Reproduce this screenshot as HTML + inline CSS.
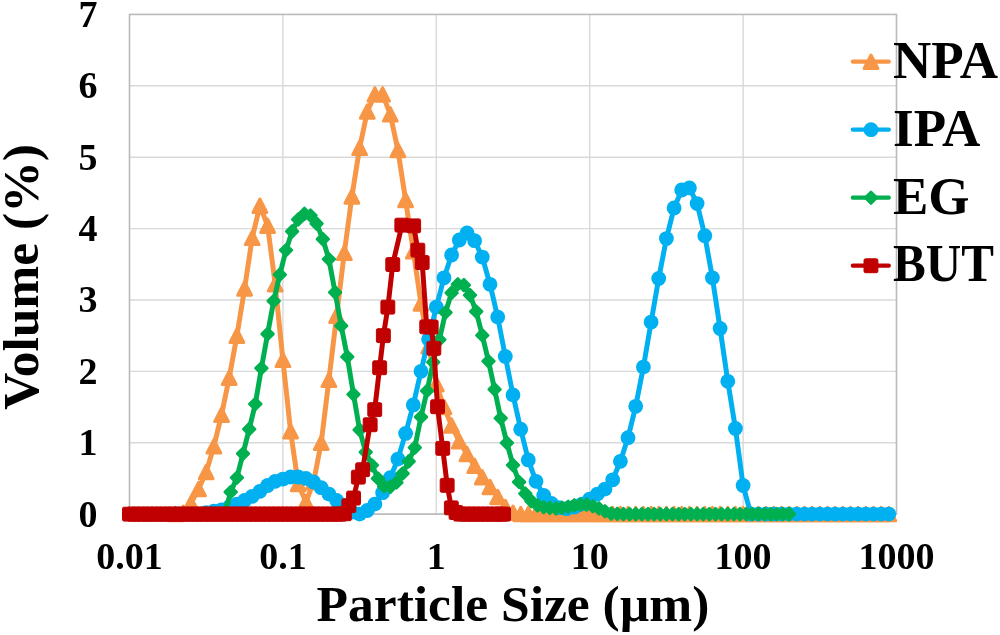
<!DOCTYPE html>
<html><head><meta charset="utf-8"><style>
html,body{margin:0;padding:0;background:#fff;}
svg{display:block;}
text{font-family:"Liberation Serif",serif;font-weight:bold;fill:#000;}
.tk{font-size:38px;}
.lg{font-size:53px;}
.lgb{font-size:52.5px;}
.tt{font-size:51.5px;}
</style></head><body>
<svg width="1000" height="635" viewBox="0 0 1000 635">
<line x1="129.5" y1="514.10" x2="896.5" y2="514.10" stroke="#d9d9d9" stroke-width="1.4"/>
<line x1="129.5" y1="442.72" x2="896.5" y2="442.72" stroke="#d9d9d9" stroke-width="1.4"/>
<line x1="129.5" y1="371.34" x2="896.5" y2="371.34" stroke="#d9d9d9" stroke-width="1.4"/>
<line x1="129.5" y1="299.96" x2="896.5" y2="299.96" stroke="#d9d9d9" stroke-width="1.4"/>
<line x1="129.5" y1="228.58" x2="896.5" y2="228.58" stroke="#d9d9d9" stroke-width="1.4"/>
<line x1="129.5" y1="157.20" x2="896.5" y2="157.20" stroke="#d9d9d9" stroke-width="1.4"/>
<line x1="129.5" y1="85.82" x2="896.5" y2="85.82" stroke="#d9d9d9" stroke-width="1.4"/>
<line x1="282.90" y1="14.44" x2="282.90" y2="514.10" stroke="#d9d9d9" stroke-width="1.4"/>
<line x1="436.30" y1="14.44" x2="436.30" y2="514.10" stroke="#d9d9d9" stroke-width="1.4"/>
<line x1="589.70" y1="14.44" x2="589.70" y2="514.10" stroke="#d9d9d9" stroke-width="1.4"/>
<line x1="743.10" y1="14.44" x2="743.10" y2="514.10" stroke="#d9d9d9" stroke-width="1.4"/>
<rect x="129.5" y="14.44" width="767.0" height="499.66" fill="none" stroke="#bababa" stroke-width="1.6"/>
<polyline points="175.5,514.1 183.2,512.7 190.9,503.4 198.5,489.1 206.2,472.0 213.9,446.3 221.5,414.9 229.2,377.8 236.9,335.7 244.6,288.5 252.2,237.9 259.9,205.7 267.6,225.7 275.2,284.3 282.9,359.9 290.6,431.3 298.2,484.1 305.9,502.0 313.6,482.0 321.2,442.7 328.9,379.9 336.6,315.7 344.3,252.8 351.9,196.5 359.6,147.9 367.3,111.5 374.9,94.4 382.6,94.4 390.3,114.4 397.9,150.1 405.6,200.0 413.3,251.4 421.0,303.5 428.6,346.4 436.3,384.2 444.0,407.0 451.6,425.6 459.3,441.3 467.0,454.1 474.6,465.9 482.3,477.3 490.0,487.0 497.7,497.0 505.3,507.0 513.0,512.7 520.7,514.1 528.3,514.1 536.0,514.1 543.7,514.1 551.4,514.1 559.0,514.1 566.7,514.1 574.4,514.1 582.0,514.1 589.7,514.1 597.4,514.1 605.0,514.1 612.7,514.1 620.4,514.1 628.0,514.1 635.7,514.1 643.4,514.1 651.1,514.1 658.7,514.1 666.4,514.1 674.1,514.1 681.7,514.1 689.4,514.1 697.1,514.1 704.8,514.1 712.4,514.1 720.1,514.1 727.8,514.1 735.4,514.1 743.1,514.1 750.8,514.1 758.4,514.1 766.1,514.1 773.8,514.1 781.5,514.1 789.1,514.1 796.8,514.1 804.5,514.1 812.1,514.1 819.8,514.1 827.5,514.1 835.1,514.1 842.8,514.1 850.5,514.1 858.1,514.1 865.8,514.1 873.5,514.1 881.2,514.1 888.8,514.1" fill="none" stroke="#f79646" stroke-width="5" stroke-linejoin="round" stroke-linecap="round"/>
<path d="M175.5 507.4L182.4 520.8L168.6 520.8Z" fill="#f79646" stroke="#f79646" stroke-width="3" stroke-linejoin="round"/>
<path d="M183.2 506.0L190.1 519.4L176.3 519.4Z" fill="#f79646" stroke="#f79646" stroke-width="3" stroke-linejoin="round"/>
<path d="M190.9 496.7L197.8 510.1L184.0 510.1Z" fill="#f79646" stroke="#f79646" stroke-width="3" stroke-linejoin="round"/>
<path d="M198.5 482.4L205.4 495.8L191.6 495.8Z" fill="#f79646" stroke="#f79646" stroke-width="3" stroke-linejoin="round"/>
<path d="M206.2 465.3L213.1 478.7L199.3 478.7Z" fill="#f79646" stroke="#f79646" stroke-width="3" stroke-linejoin="round"/>
<path d="M213.9 439.6L220.8 453.0L207.0 453.0Z" fill="#f79646" stroke="#f79646" stroke-width="3" stroke-linejoin="round"/>
<path d="M221.5 408.2L228.4 421.6L214.6 421.6Z" fill="#f79646" stroke="#f79646" stroke-width="3" stroke-linejoin="round"/>
<path d="M229.2 371.1L236.1 384.5L222.3 384.5Z" fill="#f79646" stroke="#f79646" stroke-width="3" stroke-linejoin="round"/>
<path d="M236.9 329.0L243.8 342.4L230.0 342.4Z" fill="#f79646" stroke="#f79646" stroke-width="3" stroke-linejoin="round"/>
<path d="M244.6 281.8L251.5 295.2L237.7 295.2Z" fill="#f79646" stroke="#f79646" stroke-width="3" stroke-linejoin="round"/>
<path d="M252.2 231.2L259.1 244.6L245.3 244.6Z" fill="#f79646" stroke="#f79646" stroke-width="3" stroke-linejoin="round"/>
<path d="M259.9 199.0L266.8 212.4L253.0 212.4Z" fill="#f79646" stroke="#f79646" stroke-width="3" stroke-linejoin="round"/>
<path d="M267.6 219.0L274.5 232.4L260.7 232.4Z" fill="#f79646" stroke="#f79646" stroke-width="3" stroke-linejoin="round"/>
<path d="M275.2 277.6L282.1 291.0L268.3 291.0Z" fill="#f79646" stroke="#f79646" stroke-width="3" stroke-linejoin="round"/>
<path d="M282.9 353.2L289.8 366.6L276.0 366.6Z" fill="#f79646" stroke="#f79646" stroke-width="3" stroke-linejoin="round"/>
<path d="M290.6 424.6L297.5 438.0L283.7 438.0Z" fill="#f79646" stroke="#f79646" stroke-width="3" stroke-linejoin="round"/>
<path d="M298.2 477.4L305.1 490.8L291.3 490.8Z" fill="#f79646" stroke="#f79646" stroke-width="3" stroke-linejoin="round"/>
<path d="M305.9 495.3L312.8 508.7L299.0 508.7Z" fill="#f79646" stroke="#f79646" stroke-width="3" stroke-linejoin="round"/>
<path d="M313.6 475.3L320.5 488.7L306.7 488.7Z" fill="#f79646" stroke="#f79646" stroke-width="3" stroke-linejoin="round"/>
<path d="M321.2 436.0L328.1 449.4L314.4 449.4Z" fill="#f79646" stroke="#f79646" stroke-width="3" stroke-linejoin="round"/>
<path d="M328.9 373.2L335.8 386.6L322.0 386.6Z" fill="#f79646" stroke="#f79646" stroke-width="3" stroke-linejoin="round"/>
<path d="M336.6 309.0L343.5 322.4L329.7 322.4Z" fill="#f79646" stroke="#f79646" stroke-width="3" stroke-linejoin="round"/>
<path d="M344.3 246.1L351.2 259.5L337.4 259.5Z" fill="#f79646" stroke="#f79646" stroke-width="3" stroke-linejoin="round"/>
<path d="M351.9 189.8L358.8 203.2L345.0 203.2Z" fill="#f79646" stroke="#f79646" stroke-width="3" stroke-linejoin="round"/>
<path d="M359.6 141.2L366.5 154.6L352.7 154.6Z" fill="#f79646" stroke="#f79646" stroke-width="3" stroke-linejoin="round"/>
<path d="M367.3 104.8L374.2 118.2L360.4 118.2Z" fill="#f79646" stroke="#f79646" stroke-width="3" stroke-linejoin="round"/>
<path d="M374.9 87.7L381.8 101.1L368.0 101.1Z" fill="#f79646" stroke="#f79646" stroke-width="3" stroke-linejoin="round"/>
<path d="M382.6 87.7L389.5 101.1L375.7 101.1Z" fill="#f79646" stroke="#f79646" stroke-width="3" stroke-linejoin="round"/>
<path d="M390.3 107.7L397.2 121.1L383.4 121.1Z" fill="#f79646" stroke="#f79646" stroke-width="3" stroke-linejoin="round"/>
<path d="M397.9 143.4L404.8 156.8L391.1 156.8Z" fill="#f79646" stroke="#f79646" stroke-width="3" stroke-linejoin="round"/>
<path d="M405.6 193.3L412.5 206.7L398.7 206.7Z" fill="#f79646" stroke="#f79646" stroke-width="3" stroke-linejoin="round"/>
<path d="M413.3 244.7L420.2 258.1L406.4 258.1Z" fill="#f79646" stroke="#f79646" stroke-width="3" stroke-linejoin="round"/>
<path d="M421.0 296.8L427.9 310.2L414.1 310.2Z" fill="#f79646" stroke="#f79646" stroke-width="3" stroke-linejoin="round"/>
<path d="M428.6 339.7L435.5 353.1L421.7 353.1Z" fill="#f79646" stroke="#f79646" stroke-width="3" stroke-linejoin="round"/>
<path d="M436.3 377.5L443.2 390.9L429.4 390.9Z" fill="#f79646" stroke="#f79646" stroke-width="3" stroke-linejoin="round"/>
<path d="M444.0 400.3L450.9 413.7L437.1 413.7Z" fill="#f79646" stroke="#f79646" stroke-width="3" stroke-linejoin="round"/>
<path d="M451.6 418.9L458.5 432.3L444.7 432.3Z" fill="#f79646" stroke="#f79646" stroke-width="3" stroke-linejoin="round"/>
<path d="M459.3 434.6L466.2 448.0L452.4 448.0Z" fill="#f79646" stroke="#f79646" stroke-width="3" stroke-linejoin="round"/>
<path d="M467.0 447.4L473.9 460.8L460.1 460.8Z" fill="#f79646" stroke="#f79646" stroke-width="3" stroke-linejoin="round"/>
<path d="M474.6 459.2L481.5 472.6L467.8 472.6Z" fill="#f79646" stroke="#f79646" stroke-width="3" stroke-linejoin="round"/>
<path d="M482.3 470.6L489.2 484.0L475.4 484.0Z" fill="#f79646" stroke="#f79646" stroke-width="3" stroke-linejoin="round"/>
<path d="M490.0 480.3L496.9 493.7L483.1 493.7Z" fill="#f79646" stroke="#f79646" stroke-width="3" stroke-linejoin="round"/>
<path d="M497.7 490.3L504.6 503.7L490.8 503.7Z" fill="#f79646" stroke="#f79646" stroke-width="3" stroke-linejoin="round"/>
<path d="M505.3 500.3L512.2 513.7L498.4 513.7Z" fill="#f79646" stroke="#f79646" stroke-width="3" stroke-linejoin="round"/>
<path d="M513.0 506.0L519.9 519.4L506.1 519.4Z" fill="#f79646" stroke="#f79646" stroke-width="3" stroke-linejoin="round"/>
<path d="M520.7 507.4L527.6 520.8L513.8 520.8Z" fill="#f79646" stroke="#f79646" stroke-width="3" stroke-linejoin="round"/>
<path d="M528.3 507.4L535.2 520.8L521.4 520.8Z" fill="#f79646" stroke="#f79646" stroke-width="3" stroke-linejoin="round"/>
<path d="M536.0 507.4L542.9 520.8L529.1 520.8Z" fill="#f79646" stroke="#f79646" stroke-width="3" stroke-linejoin="round"/>
<path d="M543.7 507.4L550.6 520.8L536.8 520.8Z" fill="#f79646" stroke="#f79646" stroke-width="3" stroke-linejoin="round"/>
<path d="M551.4 507.4L558.2 520.8L544.5 520.8Z" fill="#f79646" stroke="#f79646" stroke-width="3" stroke-linejoin="round"/>
<path d="M559.0 507.4L565.9 520.8L552.1 520.8Z" fill="#f79646" stroke="#f79646" stroke-width="3" stroke-linejoin="round"/>
<path d="M566.7 507.4L573.6 520.8L559.8 520.8Z" fill="#f79646" stroke="#f79646" stroke-width="3" stroke-linejoin="round"/>
<path d="M574.4 507.4L581.3 520.8L567.5 520.8Z" fill="#f79646" stroke="#f79646" stroke-width="3" stroke-linejoin="round"/>
<path d="M582.0 507.4L588.9 520.8L575.1 520.8Z" fill="#f79646" stroke="#f79646" stroke-width="3" stroke-linejoin="round"/>
<path d="M589.7 507.4L596.6 520.8L582.8 520.8Z" fill="#f79646" stroke="#f79646" stroke-width="3" stroke-linejoin="round"/>
<path d="M597.4 507.4L604.3 520.8L590.5 520.8Z" fill="#f79646" stroke="#f79646" stroke-width="3" stroke-linejoin="round"/>
<path d="M605.0 507.4L611.9 520.8L598.1 520.8Z" fill="#f79646" stroke="#f79646" stroke-width="3" stroke-linejoin="round"/>
<path d="M612.7 507.4L619.6 520.8L605.8 520.8Z" fill="#f79646" stroke="#f79646" stroke-width="3" stroke-linejoin="round"/>
<path d="M620.4 507.4L627.3 520.8L613.5 520.8Z" fill="#f79646" stroke="#f79646" stroke-width="3" stroke-linejoin="round"/>
<path d="M628.0 507.4L634.9 520.8L621.1 520.8Z" fill="#f79646" stroke="#f79646" stroke-width="3" stroke-linejoin="round"/>
<path d="M635.7 507.4L642.6 520.8L628.8 520.8Z" fill="#f79646" stroke="#f79646" stroke-width="3" stroke-linejoin="round"/>
<path d="M643.4 507.4L650.3 520.8L636.5 520.8Z" fill="#f79646" stroke="#f79646" stroke-width="3" stroke-linejoin="round"/>
<path d="M651.1 507.4L658.0 520.8L644.2 520.8Z" fill="#f79646" stroke="#f79646" stroke-width="3" stroke-linejoin="round"/>
<path d="M658.7 507.4L665.6 520.8L651.8 520.8Z" fill="#f79646" stroke="#f79646" stroke-width="3" stroke-linejoin="round"/>
<path d="M666.4 507.4L673.3 520.8L659.5 520.8Z" fill="#f79646" stroke="#f79646" stroke-width="3" stroke-linejoin="round"/>
<path d="M674.1 507.4L681.0 520.8L667.2 520.8Z" fill="#f79646" stroke="#f79646" stroke-width="3" stroke-linejoin="round"/>
<path d="M681.7 507.4L688.6 520.8L674.8 520.8Z" fill="#f79646" stroke="#f79646" stroke-width="3" stroke-linejoin="round"/>
<path d="M689.4 507.4L696.3 520.8L682.5 520.8Z" fill="#f79646" stroke="#f79646" stroke-width="3" stroke-linejoin="round"/>
<path d="M697.1 507.4L704.0 520.8L690.2 520.8Z" fill="#f79646" stroke="#f79646" stroke-width="3" stroke-linejoin="round"/>
<path d="M704.8 507.4L711.6 520.8L697.9 520.8Z" fill="#f79646" stroke="#f79646" stroke-width="3" stroke-linejoin="round"/>
<path d="M712.4 507.4L719.3 520.8L705.5 520.8Z" fill="#f79646" stroke="#f79646" stroke-width="3" stroke-linejoin="round"/>
<path d="M720.1 507.4L727.0 520.8L713.2 520.8Z" fill="#f79646" stroke="#f79646" stroke-width="3" stroke-linejoin="round"/>
<path d="M727.8 507.4L734.7 520.8L720.9 520.8Z" fill="#f79646" stroke="#f79646" stroke-width="3" stroke-linejoin="round"/>
<path d="M735.4 507.4L742.3 520.8L728.5 520.8Z" fill="#f79646" stroke="#f79646" stroke-width="3" stroke-linejoin="round"/>
<path d="M743.1 507.4L750.0 520.8L736.2 520.8Z" fill="#f79646" stroke="#f79646" stroke-width="3" stroke-linejoin="round"/>
<path d="M750.8 507.4L757.7 520.8L743.9 520.8Z" fill="#f79646" stroke="#f79646" stroke-width="3" stroke-linejoin="round"/>
<path d="M758.4 507.4L765.3 520.8L751.5 520.8Z" fill="#f79646" stroke="#f79646" stroke-width="3" stroke-linejoin="round"/>
<path d="M766.1 507.4L773.0 520.8L759.2 520.8Z" fill="#f79646" stroke="#f79646" stroke-width="3" stroke-linejoin="round"/>
<path d="M773.8 507.4L780.7 520.8L766.9 520.8Z" fill="#f79646" stroke="#f79646" stroke-width="3" stroke-linejoin="round"/>
<path d="M781.5 507.4L788.4 520.8L774.6 520.8Z" fill="#f79646" stroke="#f79646" stroke-width="3" stroke-linejoin="round"/>
<path d="M789.1 507.4L796.0 520.8L782.2 520.8Z" fill="#f79646" stroke="#f79646" stroke-width="3" stroke-linejoin="round"/>
<path d="M796.8 507.4L803.7 520.8L789.9 520.8Z" fill="#f79646" stroke="#f79646" stroke-width="3" stroke-linejoin="round"/>
<path d="M804.5 507.4L811.4 520.8L797.6 520.8Z" fill="#f79646" stroke="#f79646" stroke-width="3" stroke-linejoin="round"/>
<path d="M812.1 507.4L819.0 520.8L805.2 520.8Z" fill="#f79646" stroke="#f79646" stroke-width="3" stroke-linejoin="round"/>
<path d="M819.8 507.4L826.7 520.8L812.9 520.8Z" fill="#f79646" stroke="#f79646" stroke-width="3" stroke-linejoin="round"/>
<path d="M827.5 507.4L834.4 520.8L820.6 520.8Z" fill="#f79646" stroke="#f79646" stroke-width="3" stroke-linejoin="round"/>
<path d="M835.1 507.4L842.0 520.8L828.2 520.8Z" fill="#f79646" stroke="#f79646" stroke-width="3" stroke-linejoin="round"/>
<path d="M842.8 507.4L849.7 520.8L835.9 520.8Z" fill="#f79646" stroke="#f79646" stroke-width="3" stroke-linejoin="round"/>
<path d="M850.5 507.4L857.4 520.8L843.6 520.8Z" fill="#f79646" stroke="#f79646" stroke-width="3" stroke-linejoin="round"/>
<path d="M858.1 507.4L865.0 520.8L851.2 520.8Z" fill="#f79646" stroke="#f79646" stroke-width="3" stroke-linejoin="round"/>
<path d="M865.8 507.4L872.7 520.8L858.9 520.8Z" fill="#f79646" stroke="#f79646" stroke-width="3" stroke-linejoin="round"/>
<path d="M873.5 507.4L880.4 520.8L866.6 520.8Z" fill="#f79646" stroke="#f79646" stroke-width="3" stroke-linejoin="round"/>
<path d="M881.2 507.4L888.1 520.8L874.3 520.8Z" fill="#f79646" stroke="#f79646" stroke-width="3" stroke-linejoin="round"/>
<path d="M888.8 507.4L895.7 520.8L881.9 520.8Z" fill="#f79646" stroke="#f79646" stroke-width="3" stroke-linejoin="round"/>
<polyline points="129.5,514.1 137.2,514.1 144.8,514.1 152.5,514.1 160.2,514.1 167.8,514.1 175.5,514.1 183.2,514.1 190.9,514.1 198.5,514.1 206.2,512.7 213.9,511.2 221.5,509.8 229.2,507.0 236.9,504.1 244.6,500.5 252.2,496.3 259.9,491.3 267.6,485.5 275.2,481.3 282.9,479.1 290.6,477.0 298.2,477.0 305.9,478.4 313.6,482.0 321.2,487.7 328.9,494.1 336.6,500.5 344.3,507.7 351.9,512.0 359.6,514.1 367.3,510.5 374.9,504.1 382.6,492.7 390.3,477.7 397.9,459.1 405.6,433.4 413.3,404.9 421.0,371.3 428.6,339.2 436.3,307.1 444.0,277.8 451.6,255.0 459.3,240.0 467.0,232.9 474.6,240.7 482.3,257.1 490.0,284.3 497.7,317.1 505.3,356.4 513.0,394.9 520.7,429.2 528.3,459.9 536.0,481.3 543.7,495.5 551.4,503.4 559.0,507.7 566.7,508.7 574.4,507.0 582.0,504.1 589.7,499.1 597.4,494.1 605.0,489.1 612.7,479.8 620.4,461.3 628.0,437.7 635.7,406.3 643.4,367.1 651.1,322.1 658.7,278.5 666.4,238.6 674.1,207.9 681.7,190.0 689.4,187.9 697.1,203.6 704.8,235.7 712.4,277.8 720.1,328.5 727.8,381.3 735.4,428.4 743.1,485.5 750.8,514.1 758.4,514.1 766.1,514.1 773.8,514.1 781.5,514.1 789.1,514.1 796.8,514.1 804.5,514.1 812.1,514.1 819.8,514.1 827.5,514.1 835.1,514.1 842.8,514.1 850.5,514.1 858.1,514.1 865.8,514.1 873.5,514.1 881.2,514.1 888.8,514.1" fill="none" stroke="#00b0f0" stroke-width="5" stroke-linejoin="round" stroke-linecap="round"/>
<circle cx="129.5" cy="514.1" r="7.4" fill="#00b0f0"/>
<circle cx="137.2" cy="514.1" r="7.4" fill="#00b0f0"/>
<circle cx="144.8" cy="514.1" r="7.4" fill="#00b0f0"/>
<circle cx="152.5" cy="514.1" r="7.4" fill="#00b0f0"/>
<circle cx="160.2" cy="514.1" r="7.4" fill="#00b0f0"/>
<circle cx="167.8" cy="514.1" r="7.4" fill="#00b0f0"/>
<circle cx="175.5" cy="514.1" r="7.4" fill="#00b0f0"/>
<circle cx="183.2" cy="514.1" r="7.4" fill="#00b0f0"/>
<circle cx="190.9" cy="514.1" r="7.4" fill="#00b0f0"/>
<circle cx="198.5" cy="514.1" r="7.4" fill="#00b0f0"/>
<circle cx="206.2" cy="512.7" r="7.4" fill="#00b0f0"/>
<circle cx="213.9" cy="511.2" r="7.4" fill="#00b0f0"/>
<circle cx="221.5" cy="509.8" r="7.4" fill="#00b0f0"/>
<circle cx="229.2" cy="507.0" r="7.4" fill="#00b0f0"/>
<circle cx="236.9" cy="504.1" r="7.4" fill="#00b0f0"/>
<circle cx="244.6" cy="500.5" r="7.4" fill="#00b0f0"/>
<circle cx="252.2" cy="496.3" r="7.4" fill="#00b0f0"/>
<circle cx="259.9" cy="491.3" r="7.4" fill="#00b0f0"/>
<circle cx="267.6" cy="485.5" r="7.4" fill="#00b0f0"/>
<circle cx="275.2" cy="481.3" r="7.4" fill="#00b0f0"/>
<circle cx="282.9" cy="479.1" r="7.4" fill="#00b0f0"/>
<circle cx="290.6" cy="477.0" r="7.4" fill="#00b0f0"/>
<circle cx="298.2" cy="477.0" r="7.4" fill="#00b0f0"/>
<circle cx="305.9" cy="478.4" r="7.4" fill="#00b0f0"/>
<circle cx="313.6" cy="482.0" r="7.4" fill="#00b0f0"/>
<circle cx="321.2" cy="487.7" r="7.4" fill="#00b0f0"/>
<circle cx="328.9" cy="494.1" r="7.4" fill="#00b0f0"/>
<circle cx="336.6" cy="500.5" r="7.4" fill="#00b0f0"/>
<circle cx="344.3" cy="507.7" r="7.4" fill="#00b0f0"/>
<circle cx="351.9" cy="512.0" r="7.4" fill="#00b0f0"/>
<circle cx="359.6" cy="514.1" r="7.4" fill="#00b0f0"/>
<circle cx="367.3" cy="510.5" r="7.4" fill="#00b0f0"/>
<circle cx="374.9" cy="504.1" r="7.4" fill="#00b0f0"/>
<circle cx="382.6" cy="492.7" r="7.4" fill="#00b0f0"/>
<circle cx="390.3" cy="477.7" r="7.4" fill="#00b0f0"/>
<circle cx="397.9" cy="459.1" r="7.4" fill="#00b0f0"/>
<circle cx="405.6" cy="433.4" r="7.4" fill="#00b0f0"/>
<circle cx="413.3" cy="404.9" r="7.4" fill="#00b0f0"/>
<circle cx="421.0" cy="371.3" r="7.4" fill="#00b0f0"/>
<circle cx="428.6" cy="339.2" r="7.4" fill="#00b0f0"/>
<circle cx="436.3" cy="307.1" r="7.4" fill="#00b0f0"/>
<circle cx="444.0" cy="277.8" r="7.4" fill="#00b0f0"/>
<circle cx="451.6" cy="255.0" r="7.4" fill="#00b0f0"/>
<circle cx="459.3" cy="240.0" r="7.4" fill="#00b0f0"/>
<circle cx="467.0" cy="232.9" r="7.4" fill="#00b0f0"/>
<circle cx="474.6" cy="240.7" r="7.4" fill="#00b0f0"/>
<circle cx="482.3" cy="257.1" r="7.4" fill="#00b0f0"/>
<circle cx="490.0" cy="284.3" r="7.4" fill="#00b0f0"/>
<circle cx="497.7" cy="317.1" r="7.4" fill="#00b0f0"/>
<circle cx="505.3" cy="356.4" r="7.4" fill="#00b0f0"/>
<circle cx="513.0" cy="394.9" r="7.4" fill="#00b0f0"/>
<circle cx="520.7" cy="429.2" r="7.4" fill="#00b0f0"/>
<circle cx="528.3" cy="459.9" r="7.4" fill="#00b0f0"/>
<circle cx="536.0" cy="481.3" r="7.4" fill="#00b0f0"/>
<circle cx="543.7" cy="495.5" r="7.4" fill="#00b0f0"/>
<circle cx="551.4" cy="503.4" r="7.4" fill="#00b0f0"/>
<circle cx="559.0" cy="507.7" r="7.4" fill="#00b0f0"/>
<circle cx="566.7" cy="508.7" r="7.4" fill="#00b0f0"/>
<circle cx="574.4" cy="507.0" r="7.4" fill="#00b0f0"/>
<circle cx="582.0" cy="504.1" r="7.4" fill="#00b0f0"/>
<circle cx="589.7" cy="499.1" r="7.4" fill="#00b0f0"/>
<circle cx="597.4" cy="494.1" r="7.4" fill="#00b0f0"/>
<circle cx="605.0" cy="489.1" r="7.4" fill="#00b0f0"/>
<circle cx="612.7" cy="479.8" r="7.4" fill="#00b0f0"/>
<circle cx="620.4" cy="461.3" r="7.4" fill="#00b0f0"/>
<circle cx="628.0" cy="437.7" r="7.4" fill="#00b0f0"/>
<circle cx="635.7" cy="406.3" r="7.4" fill="#00b0f0"/>
<circle cx="643.4" cy="367.1" r="7.4" fill="#00b0f0"/>
<circle cx="651.1" cy="322.1" r="7.4" fill="#00b0f0"/>
<circle cx="658.7" cy="278.5" r="7.4" fill="#00b0f0"/>
<circle cx="666.4" cy="238.6" r="7.4" fill="#00b0f0"/>
<circle cx="674.1" cy="207.9" r="7.4" fill="#00b0f0"/>
<circle cx="681.7" cy="190.0" r="7.4" fill="#00b0f0"/>
<circle cx="689.4" cy="187.9" r="7.4" fill="#00b0f0"/>
<circle cx="697.1" cy="203.6" r="7.4" fill="#00b0f0"/>
<circle cx="704.8" cy="235.7" r="7.4" fill="#00b0f0"/>
<circle cx="712.4" cy="277.8" r="7.4" fill="#00b0f0"/>
<circle cx="720.1" cy="328.5" r="7.4" fill="#00b0f0"/>
<circle cx="727.8" cy="381.3" r="7.4" fill="#00b0f0"/>
<circle cx="735.4" cy="428.4" r="7.4" fill="#00b0f0"/>
<circle cx="743.1" cy="485.5" r="7.4" fill="#00b0f0"/>
<circle cx="750.8" cy="514.1" r="7.4" fill="#00b0f0"/>
<circle cx="758.4" cy="514.1" r="7.4" fill="#00b0f0"/>
<circle cx="766.1" cy="514.1" r="7.4" fill="#00b0f0"/>
<circle cx="773.8" cy="514.1" r="7.4" fill="#00b0f0"/>
<circle cx="781.5" cy="514.1" r="7.4" fill="#00b0f0"/>
<circle cx="789.1" cy="514.1" r="7.4" fill="#00b0f0"/>
<circle cx="796.8" cy="514.1" r="7.4" fill="#00b0f0"/>
<circle cx="804.5" cy="514.1" r="7.4" fill="#00b0f0"/>
<circle cx="812.1" cy="514.1" r="7.4" fill="#00b0f0"/>
<circle cx="819.8" cy="514.1" r="7.4" fill="#00b0f0"/>
<circle cx="827.5" cy="514.1" r="7.4" fill="#00b0f0"/>
<circle cx="835.1" cy="514.1" r="7.4" fill="#00b0f0"/>
<circle cx="842.8" cy="514.1" r="7.4" fill="#00b0f0"/>
<circle cx="850.5" cy="514.1" r="7.4" fill="#00b0f0"/>
<circle cx="858.1" cy="514.1" r="7.4" fill="#00b0f0"/>
<circle cx="865.8" cy="514.1" r="7.4" fill="#00b0f0"/>
<circle cx="873.5" cy="514.1" r="7.4" fill="#00b0f0"/>
<circle cx="881.2" cy="514.1" r="7.4" fill="#00b0f0"/>
<circle cx="888.8" cy="514.1" r="7.4" fill="#00b0f0"/>
<polyline points="132.6,514.1 138.7,514.1 144.8,514.1 151.0,514.1 157.1,514.1 163.2,514.1 169.4,514.1 175.5,514.1 181.7,514.1 187.8,514.1 193.9,514.1 200.1,514.1 206.2,514.1 212.3,514.1 218.5,514.1 224.6,513.2 230.7,492.0 236.9,477.7 243.0,453.7 249.2,429.1 255.3,404.0 261.4,368.2 267.6,334.0 273.7,301.0 279.8,274.6 286.0,250.2 292.1,231.4 298.2,219.5 304.4,213.9 310.5,215.5 316.6,223.6 322.8,239.1 328.9,259.2 335.1,292.4 341.2,325.8 347.3,356.8 353.5,394.4 359.6,429.9 365.7,452.2 371.9,465.2 378.0,478.5 384.1,486.3 390.3,486.9 396.4,482.5 402.6,473.5 408.7,461.4 414.8,447.6 421.0,417.0 427.1,390.8 433.2,362.1 439.4,339.7 445.5,312.5 451.6,292.8 457.8,284.3 463.9,285.1 470.0,295.1 476.2,311.5 482.3,335.3 488.5,361.2 494.6,389.4 500.7,418.2 506.9,442.9 513.0,465.1 519.1,482.0 525.3,493.6 531.4,501.1 537.5,505.4 543.7,507.2 549.8,507.9 556.0,508.4 562.1,507.8 568.2,506.7 574.4,505.2 580.5,504.8 586.6,504.6 592.8,506.2 598.9,508.4 605.0,511.2 611.2,513.6 617.3,513.9 623.4,514.1 629.6,514.1 635.7,514.1 641.9,514.1 648.0,514.1 654.1,514.1 660.3,514.1 666.4,514.1 672.5,514.1 678.7,514.1 684.8,514.1 690.9,514.1 697.1,514.1 703.2,514.1 709.4,514.1 715.5,514.1 721.6,514.1 727.8,514.1 733.9,514.1 740.0,514.1 746.2,514.1 752.3,514.1 758.4,514.1 764.6,514.1 770.7,514.1 776.8,514.1 783.0,514.1 789.1,514.1" fill="none" stroke="#00b050" stroke-width="5" stroke-linejoin="round" stroke-linecap="round"/>
<path d="M132.6 508.2L138.5 514.1L132.6 520.0L126.7 514.1Z" fill="#00b050" stroke="#00b050" stroke-width="2.6" stroke-linejoin="round"/>
<path d="M138.7 508.2L144.6 514.1L138.7 520.0L132.8 514.1Z" fill="#00b050" stroke="#00b050" stroke-width="2.6" stroke-linejoin="round"/>
<path d="M144.8 508.2L150.7 514.1L144.8 520.0L138.9 514.1Z" fill="#00b050" stroke="#00b050" stroke-width="2.6" stroke-linejoin="round"/>
<path d="M151.0 508.2L156.9 514.1L151.0 520.0L145.1 514.1Z" fill="#00b050" stroke="#00b050" stroke-width="2.6" stroke-linejoin="round"/>
<path d="M157.1 508.2L163.0 514.1L157.1 520.0L151.2 514.1Z" fill="#00b050" stroke="#00b050" stroke-width="2.6" stroke-linejoin="round"/>
<path d="M163.2 508.2L169.1 514.1L163.2 520.0L157.3 514.1Z" fill="#00b050" stroke="#00b050" stroke-width="2.6" stroke-linejoin="round"/>
<path d="M169.4 508.2L175.3 514.1L169.4 520.0L163.5 514.1Z" fill="#00b050" stroke="#00b050" stroke-width="2.6" stroke-linejoin="round"/>
<path d="M175.5 508.2L181.4 514.1L175.5 520.0L169.6 514.1Z" fill="#00b050" stroke="#00b050" stroke-width="2.6" stroke-linejoin="round"/>
<path d="M181.7 508.2L187.6 514.1L181.7 520.0L175.8 514.1Z" fill="#00b050" stroke="#00b050" stroke-width="2.6" stroke-linejoin="round"/>
<path d="M187.8 508.2L193.7 514.1L187.8 520.0L181.9 514.1Z" fill="#00b050" stroke="#00b050" stroke-width="2.6" stroke-linejoin="round"/>
<path d="M193.9 508.2L199.8 514.1L193.9 520.0L188.0 514.1Z" fill="#00b050" stroke="#00b050" stroke-width="2.6" stroke-linejoin="round"/>
<path d="M200.1 508.2L206.0 514.1L200.1 520.0L194.2 514.1Z" fill="#00b050" stroke="#00b050" stroke-width="2.6" stroke-linejoin="round"/>
<path d="M206.2 508.2L212.1 514.1L206.2 520.0L200.3 514.1Z" fill="#00b050" stroke="#00b050" stroke-width="2.6" stroke-linejoin="round"/>
<path d="M212.3 508.2L218.2 514.1L212.3 520.0L206.4 514.1Z" fill="#00b050" stroke="#00b050" stroke-width="2.6" stroke-linejoin="round"/>
<path d="M218.5 508.2L224.4 514.1L218.5 520.0L212.6 514.1Z" fill="#00b050" stroke="#00b050" stroke-width="2.6" stroke-linejoin="round"/>
<path d="M224.6 507.3L230.5 513.2L224.6 519.1L218.7 513.2Z" fill="#00b050" stroke="#00b050" stroke-width="2.6" stroke-linejoin="round"/>
<path d="M230.7 486.1L236.6 492.0L230.7 497.9L224.8 492.0Z" fill="#00b050" stroke="#00b050" stroke-width="2.6" stroke-linejoin="round"/>
<path d="M236.9 471.8L242.8 477.7L236.9 483.6L231.0 477.7Z" fill="#00b050" stroke="#00b050" stroke-width="2.6" stroke-linejoin="round"/>
<path d="M243.0 447.8L248.9 453.7L243.0 459.6L237.1 453.7Z" fill="#00b050" stroke="#00b050" stroke-width="2.6" stroke-linejoin="round"/>
<path d="M249.2 423.2L255.1 429.1L249.2 435.0L243.3 429.1Z" fill="#00b050" stroke="#00b050" stroke-width="2.6" stroke-linejoin="round"/>
<path d="M255.3 398.1L261.2 404.0L255.3 409.9L249.4 404.0Z" fill="#00b050" stroke="#00b050" stroke-width="2.6" stroke-linejoin="round"/>
<path d="M261.4 362.3L267.3 368.2L261.4 374.1L255.5 368.2Z" fill="#00b050" stroke="#00b050" stroke-width="2.6" stroke-linejoin="round"/>
<path d="M267.6 328.1L273.5 334.0L267.6 339.9L261.7 334.0Z" fill="#00b050" stroke="#00b050" stroke-width="2.6" stroke-linejoin="round"/>
<path d="M273.7 295.1L279.6 301.0L273.7 306.9L267.8 301.0Z" fill="#00b050" stroke="#00b050" stroke-width="2.6" stroke-linejoin="round"/>
<path d="M279.8 268.7L285.7 274.6L279.8 280.5L273.9 274.6Z" fill="#00b050" stroke="#00b050" stroke-width="2.6" stroke-linejoin="round"/>
<path d="M286.0 244.3L291.9 250.2L286.0 256.1L280.1 250.2Z" fill="#00b050" stroke="#00b050" stroke-width="2.6" stroke-linejoin="round"/>
<path d="M292.1 225.5L298.0 231.4L292.1 237.3L286.2 231.4Z" fill="#00b050" stroke="#00b050" stroke-width="2.6" stroke-linejoin="round"/>
<path d="M298.2 213.6L304.1 219.5L298.2 225.4L292.3 219.5Z" fill="#00b050" stroke="#00b050" stroke-width="2.6" stroke-linejoin="round"/>
<path d="M304.4 208.0L310.3 213.9L304.4 219.8L298.5 213.9Z" fill="#00b050" stroke="#00b050" stroke-width="2.6" stroke-linejoin="round"/>
<path d="M310.5 209.6L316.4 215.5L310.5 221.4L304.6 215.5Z" fill="#00b050" stroke="#00b050" stroke-width="2.6" stroke-linejoin="round"/>
<path d="M316.6 217.7L322.5 223.6L316.6 229.5L310.7 223.6Z" fill="#00b050" stroke="#00b050" stroke-width="2.6" stroke-linejoin="round"/>
<path d="M322.8 233.2L328.7 239.1L322.8 245.0L316.9 239.1Z" fill="#00b050" stroke="#00b050" stroke-width="2.6" stroke-linejoin="round"/>
<path d="M328.9 253.3L334.8 259.2L328.9 265.1L323.0 259.2Z" fill="#00b050" stroke="#00b050" stroke-width="2.6" stroke-linejoin="round"/>
<path d="M335.1 286.5L341.0 292.4L335.1 298.3L329.2 292.4Z" fill="#00b050" stroke="#00b050" stroke-width="2.6" stroke-linejoin="round"/>
<path d="M341.2 319.9L347.1 325.8L341.2 331.7L335.3 325.8Z" fill="#00b050" stroke="#00b050" stroke-width="2.6" stroke-linejoin="round"/>
<path d="M347.3 350.9L353.2 356.8L347.3 362.7L341.4 356.8Z" fill="#00b050" stroke="#00b050" stroke-width="2.6" stroke-linejoin="round"/>
<path d="M353.5 388.5L359.4 394.4L353.5 400.3L347.6 394.4Z" fill="#00b050" stroke="#00b050" stroke-width="2.6" stroke-linejoin="round"/>
<path d="M359.6 424.0L365.5 429.9L359.6 435.8L353.7 429.9Z" fill="#00b050" stroke="#00b050" stroke-width="2.6" stroke-linejoin="round"/>
<path d="M365.7 446.3L371.6 452.2L365.7 458.1L359.8 452.2Z" fill="#00b050" stroke="#00b050" stroke-width="2.6" stroke-linejoin="round"/>
<path d="M371.9 459.3L377.8 465.2L371.9 471.1L366.0 465.2Z" fill="#00b050" stroke="#00b050" stroke-width="2.6" stroke-linejoin="round"/>
<path d="M378.0 472.6L383.9 478.5L378.0 484.4L372.1 478.5Z" fill="#00b050" stroke="#00b050" stroke-width="2.6" stroke-linejoin="round"/>
<path d="M384.1 480.4L390.0 486.3L384.1 492.2L378.2 486.3Z" fill="#00b050" stroke="#00b050" stroke-width="2.6" stroke-linejoin="round"/>
<path d="M390.3 481.0L396.2 486.9L390.3 492.8L384.4 486.9Z" fill="#00b050" stroke="#00b050" stroke-width="2.6" stroke-linejoin="round"/>
<path d="M396.4 476.6L402.3 482.5L396.4 488.4L390.5 482.5Z" fill="#00b050" stroke="#00b050" stroke-width="2.6" stroke-linejoin="round"/>
<path d="M402.6 467.6L408.5 473.5L402.6 479.4L396.7 473.5Z" fill="#00b050" stroke="#00b050" stroke-width="2.6" stroke-linejoin="round"/>
<path d="M408.7 455.5L414.6 461.4L408.7 467.3L402.8 461.4Z" fill="#00b050" stroke="#00b050" stroke-width="2.6" stroke-linejoin="round"/>
<path d="M414.8 441.7L420.7 447.6L414.8 453.5L408.9 447.6Z" fill="#00b050" stroke="#00b050" stroke-width="2.6" stroke-linejoin="round"/>
<path d="M421.0 411.1L426.9 417.0L421.0 422.9L415.1 417.0Z" fill="#00b050" stroke="#00b050" stroke-width="2.6" stroke-linejoin="round"/>
<path d="M427.1 384.9L433.0 390.8L427.1 396.7L421.2 390.8Z" fill="#00b050" stroke="#00b050" stroke-width="2.6" stroke-linejoin="round"/>
<path d="M433.2 356.2L439.1 362.1L433.2 368.0L427.3 362.1Z" fill="#00b050" stroke="#00b050" stroke-width="2.6" stroke-linejoin="round"/>
<path d="M439.4 333.8L445.3 339.7L439.4 345.6L433.5 339.7Z" fill="#00b050" stroke="#00b050" stroke-width="2.6" stroke-linejoin="round"/>
<path d="M445.5 306.6L451.4 312.5L445.5 318.4L439.6 312.5Z" fill="#00b050" stroke="#00b050" stroke-width="2.6" stroke-linejoin="round"/>
<path d="M451.6 286.9L457.5 292.8L451.6 298.7L445.7 292.8Z" fill="#00b050" stroke="#00b050" stroke-width="2.6" stroke-linejoin="round"/>
<path d="M457.8 278.4L463.7 284.3L457.8 290.2L451.9 284.3Z" fill="#00b050" stroke="#00b050" stroke-width="2.6" stroke-linejoin="round"/>
<path d="M463.9 279.2L469.8 285.1L463.9 291.0L458.0 285.1Z" fill="#00b050" stroke="#00b050" stroke-width="2.6" stroke-linejoin="round"/>
<path d="M470.0 289.2L475.9 295.1L470.0 301.0L464.1 295.1Z" fill="#00b050" stroke="#00b050" stroke-width="2.6" stroke-linejoin="round"/>
<path d="M476.2 305.6L482.1 311.5L476.2 317.4L470.3 311.5Z" fill="#00b050" stroke="#00b050" stroke-width="2.6" stroke-linejoin="round"/>
<path d="M482.3 329.4L488.2 335.3L482.3 341.2L476.4 335.3Z" fill="#00b050" stroke="#00b050" stroke-width="2.6" stroke-linejoin="round"/>
<path d="M488.5 355.3L494.4 361.2L488.5 367.1L482.6 361.2Z" fill="#00b050" stroke="#00b050" stroke-width="2.6" stroke-linejoin="round"/>
<path d="M494.6 383.5L500.5 389.4L494.6 395.3L488.7 389.4Z" fill="#00b050" stroke="#00b050" stroke-width="2.6" stroke-linejoin="round"/>
<path d="M500.7 412.3L506.6 418.2L500.7 424.1L494.8 418.2Z" fill="#00b050" stroke="#00b050" stroke-width="2.6" stroke-linejoin="round"/>
<path d="M506.9 437.0L512.8 442.9L506.9 448.8L501.0 442.9Z" fill="#00b050" stroke="#00b050" stroke-width="2.6" stroke-linejoin="round"/>
<path d="M513.0 459.2L518.9 465.1L513.0 471.0L507.1 465.1Z" fill="#00b050" stroke="#00b050" stroke-width="2.6" stroke-linejoin="round"/>
<path d="M519.1 476.1L525.0 482.0L519.1 487.9L513.2 482.0Z" fill="#00b050" stroke="#00b050" stroke-width="2.6" stroke-linejoin="round"/>
<path d="M525.3 487.7L531.2 493.6L525.3 499.5L519.4 493.6Z" fill="#00b050" stroke="#00b050" stroke-width="2.6" stroke-linejoin="round"/>
<path d="M531.4 495.2L537.3 501.1L531.4 507.0L525.5 501.1Z" fill="#00b050" stroke="#00b050" stroke-width="2.6" stroke-linejoin="round"/>
<path d="M537.5 499.5L543.4 505.4L537.5 511.3L531.6 505.4Z" fill="#00b050" stroke="#00b050" stroke-width="2.6" stroke-linejoin="round"/>
<path d="M543.7 501.3L549.6 507.2L543.7 513.1L537.8 507.2Z" fill="#00b050" stroke="#00b050" stroke-width="2.6" stroke-linejoin="round"/>
<path d="M549.8 502.0L555.7 507.9L549.8 513.8L543.9 507.9Z" fill="#00b050" stroke="#00b050" stroke-width="2.6" stroke-linejoin="round"/>
<path d="M556.0 502.5L561.9 508.4L556.0 514.3L550.1 508.4Z" fill="#00b050" stroke="#00b050" stroke-width="2.6" stroke-linejoin="round"/>
<path d="M562.1 501.9L568.0 507.8L562.1 513.7L556.2 507.8Z" fill="#00b050" stroke="#00b050" stroke-width="2.6" stroke-linejoin="round"/>
<path d="M568.2 500.8L574.1 506.7L568.2 512.6L562.3 506.7Z" fill="#00b050" stroke="#00b050" stroke-width="2.6" stroke-linejoin="round"/>
<path d="M574.4 499.3L580.3 505.2L574.4 511.1L568.5 505.2Z" fill="#00b050" stroke="#00b050" stroke-width="2.6" stroke-linejoin="round"/>
<path d="M580.5 498.9L586.4 504.8L580.5 510.7L574.6 504.8Z" fill="#00b050" stroke="#00b050" stroke-width="2.6" stroke-linejoin="round"/>
<path d="M586.6 498.7L592.5 504.6L586.6 510.5L580.7 504.6Z" fill="#00b050" stroke="#00b050" stroke-width="2.6" stroke-linejoin="round"/>
<path d="M592.8 500.3L598.7 506.2L592.8 512.1L586.9 506.2Z" fill="#00b050" stroke="#00b050" stroke-width="2.6" stroke-linejoin="round"/>
<path d="M598.9 502.5L604.8 508.4L598.9 514.3L593.0 508.4Z" fill="#00b050" stroke="#00b050" stroke-width="2.6" stroke-linejoin="round"/>
<path d="M605.0 505.3L610.9 511.2L605.0 517.1L599.1 511.2Z" fill="#00b050" stroke="#00b050" stroke-width="2.6" stroke-linejoin="round"/>
<path d="M611.2 507.7L617.1 513.6L611.2 519.5L605.3 513.6Z" fill="#00b050" stroke="#00b050" stroke-width="2.6" stroke-linejoin="round"/>
<path d="M617.3 508.0L623.2 513.9L617.3 519.8L611.4 513.9Z" fill="#00b050" stroke="#00b050" stroke-width="2.6" stroke-linejoin="round"/>
<path d="M623.4 508.2L629.3 514.1L623.4 520.0L617.5 514.1Z" fill="#00b050" stroke="#00b050" stroke-width="2.6" stroke-linejoin="round"/>
<path d="M629.6 508.2L635.5 514.1L629.6 520.0L623.7 514.1Z" fill="#00b050" stroke="#00b050" stroke-width="2.6" stroke-linejoin="round"/>
<path d="M635.7 508.2L641.6 514.1L635.7 520.0L629.8 514.1Z" fill="#00b050" stroke="#00b050" stroke-width="2.6" stroke-linejoin="round"/>
<path d="M641.9 508.2L647.8 514.1L641.9 520.0L636.0 514.1Z" fill="#00b050" stroke="#00b050" stroke-width="2.6" stroke-linejoin="round"/>
<path d="M648.0 508.2L653.9 514.1L648.0 520.0L642.1 514.1Z" fill="#00b050" stroke="#00b050" stroke-width="2.6" stroke-linejoin="round"/>
<path d="M654.1 508.2L660.0 514.1L654.1 520.0L648.2 514.1Z" fill="#00b050" stroke="#00b050" stroke-width="2.6" stroke-linejoin="round"/>
<path d="M660.3 508.2L666.2 514.1L660.3 520.0L654.4 514.1Z" fill="#00b050" stroke="#00b050" stroke-width="2.6" stroke-linejoin="round"/>
<path d="M666.4 508.2L672.3 514.1L666.4 520.0L660.5 514.1Z" fill="#00b050" stroke="#00b050" stroke-width="2.6" stroke-linejoin="round"/>
<path d="M672.5 508.2L678.4 514.1L672.5 520.0L666.6 514.1Z" fill="#00b050" stroke="#00b050" stroke-width="2.6" stroke-linejoin="round"/>
<path d="M678.7 508.2L684.6 514.1L678.7 520.0L672.8 514.1Z" fill="#00b050" stroke="#00b050" stroke-width="2.6" stroke-linejoin="round"/>
<path d="M684.8 508.2L690.7 514.1L684.8 520.0L678.9 514.1Z" fill="#00b050" stroke="#00b050" stroke-width="2.6" stroke-linejoin="round"/>
<path d="M690.9 508.2L696.8 514.1L690.9 520.0L685.0 514.1Z" fill="#00b050" stroke="#00b050" stroke-width="2.6" stroke-linejoin="round"/>
<path d="M697.1 508.2L703.0 514.1L697.1 520.0L691.2 514.1Z" fill="#00b050" stroke="#00b050" stroke-width="2.6" stroke-linejoin="round"/>
<path d="M703.2 508.2L709.1 514.1L703.2 520.0L697.3 514.1Z" fill="#00b050" stroke="#00b050" stroke-width="2.6" stroke-linejoin="round"/>
<path d="M709.4 508.2L715.3 514.1L709.4 520.0L703.5 514.1Z" fill="#00b050" stroke="#00b050" stroke-width="2.6" stroke-linejoin="round"/>
<path d="M715.5 508.2L721.4 514.1L715.5 520.0L709.6 514.1Z" fill="#00b050" stroke="#00b050" stroke-width="2.6" stroke-linejoin="round"/>
<path d="M721.6 508.2L727.5 514.1L721.6 520.0L715.7 514.1Z" fill="#00b050" stroke="#00b050" stroke-width="2.6" stroke-linejoin="round"/>
<path d="M727.8 508.2L733.7 514.1L727.8 520.0L721.9 514.1Z" fill="#00b050" stroke="#00b050" stroke-width="2.6" stroke-linejoin="round"/>
<path d="M733.9 508.2L739.8 514.1L733.9 520.0L728.0 514.1Z" fill="#00b050" stroke="#00b050" stroke-width="2.6" stroke-linejoin="round"/>
<path d="M740.0 508.2L745.9 514.1L740.0 520.0L734.1 514.1Z" fill="#00b050" stroke="#00b050" stroke-width="2.6" stroke-linejoin="round"/>
<path d="M746.2 508.2L752.1 514.1L746.2 520.0L740.3 514.1Z" fill="#00b050" stroke="#00b050" stroke-width="2.6" stroke-linejoin="round"/>
<path d="M752.3 508.2L758.2 514.1L752.3 520.0L746.4 514.1Z" fill="#00b050" stroke="#00b050" stroke-width="2.6" stroke-linejoin="round"/>
<path d="M758.4 508.2L764.3 514.1L758.4 520.0L752.5 514.1Z" fill="#00b050" stroke="#00b050" stroke-width="2.6" stroke-linejoin="round"/>
<path d="M764.6 508.2L770.5 514.1L764.6 520.0L758.7 514.1Z" fill="#00b050" stroke="#00b050" stroke-width="2.6" stroke-linejoin="round"/>
<path d="M770.7 508.2L776.6 514.1L770.7 520.0L764.8 514.1Z" fill="#00b050" stroke="#00b050" stroke-width="2.6" stroke-linejoin="round"/>
<path d="M776.8 508.2L782.7 514.1L776.8 520.0L770.9 514.1Z" fill="#00b050" stroke="#00b050" stroke-width="2.6" stroke-linejoin="round"/>
<path d="M783.0 508.2L788.9 514.1L783.0 520.0L777.1 514.1Z" fill="#00b050" stroke="#00b050" stroke-width="2.6" stroke-linejoin="round"/>
<path d="M789.1 508.2L795.0 514.1L789.1 520.0L783.2 514.1Z" fill="#00b050" stroke="#00b050" stroke-width="2.6" stroke-linejoin="round"/>
<polyline points="129.5,514.1 134.0,514.1 138.5,514.1 143.0,514.1 147.5,514.1 152.0,514.1 156.5,514.1 161.0,514.1 165.5,514.1 170.0,514.1 174.5,514.1 179.0,514.1 183.5,514.1 188.0,514.1 192.5,514.1 197.0,514.1 201.5,514.1 206.0,514.1 210.5,514.1 215.0,514.1 219.5,514.1 224.0,514.1 228.5,514.1 233.0,514.1 237.5,514.1 242.0,514.1 246.5,514.1 251.0,514.1 255.5,514.1 260.0,514.1 264.5,514.1 269.0,514.1 273.5,514.1 278.0,514.1 282.5,514.1 287.0,514.1 291.5,514.1 296.0,514.1 300.5,514.1 305.0,514.1 309.5,514.1 314.0,514.1 318.5,514.1 323.0,514.1 327.5,514.1 332.0,514.1 336.5,514.1 339.8,514.1 344.3,513.8 348.9,505.6 353.5,498.0 358.4,477.2 362.6,469.7 370.1,424.7 374.7,409.6 379.6,367.7 383.4,335.6 387.9,307.2 392.7,264.5 401.9,225.2 413.6,225.8 417.9,250.1 422.2,262.5 426.7,326.8 431.2,327.0 433.8,348.4 437.5,406.7 442.7,448.3 447.2,485.4 451.4,507.9 456.0,512.5 460.5,514.1 465.0,514.1 469.5,514.1 474.0,514.1 478.5,514.1 483.0,514.1 487.5,514.1 492.0,514.1 496.5,514.1 501.0,514.1 503.5,514.1" fill="none" stroke="#c00000" stroke-width="5" stroke-linejoin="round" stroke-linecap="round"/>
<rect x="122.5" y="507.2" width="13.9" height="13.9" rx="1.5" fill="#c00000" stroke="#c00000" stroke-width="1"/>
<rect x="127.0" y="507.2" width="13.9" height="13.9" rx="1.5" fill="#c00000" stroke="#c00000" stroke-width="1"/>
<rect x="131.6" y="507.2" width="13.9" height="13.9" rx="1.5" fill="#c00000" stroke="#c00000" stroke-width="1"/>
<rect x="136.1" y="507.2" width="13.9" height="13.9" rx="1.5" fill="#c00000" stroke="#c00000" stroke-width="1"/>
<rect x="140.6" y="507.2" width="13.9" height="13.9" rx="1.5" fill="#c00000" stroke="#c00000" stroke-width="1"/>
<rect x="145.1" y="507.2" width="13.9" height="13.9" rx="1.5" fill="#c00000" stroke="#c00000" stroke-width="1"/>
<rect x="149.6" y="507.2" width="13.9" height="13.9" rx="1.5" fill="#c00000" stroke="#c00000" stroke-width="1"/>
<rect x="154.1" y="507.2" width="13.9" height="13.9" rx="1.5" fill="#c00000" stroke="#c00000" stroke-width="1"/>
<rect x="158.6" y="507.2" width="13.9" height="13.9" rx="1.5" fill="#c00000" stroke="#c00000" stroke-width="1"/>
<rect x="163.1" y="507.2" width="13.9" height="13.9" rx="1.5" fill="#c00000" stroke="#c00000" stroke-width="1"/>
<rect x="167.6" y="507.2" width="13.9" height="13.9" rx="1.5" fill="#c00000" stroke="#c00000" stroke-width="1"/>
<rect x="172.1" y="507.2" width="13.9" height="13.9" rx="1.5" fill="#c00000" stroke="#c00000" stroke-width="1"/>
<rect x="176.6" y="507.2" width="13.9" height="13.9" rx="1.5" fill="#c00000" stroke="#c00000" stroke-width="1"/>
<rect x="181.1" y="507.2" width="13.9" height="13.9" rx="1.5" fill="#c00000" stroke="#c00000" stroke-width="1"/>
<rect x="185.6" y="507.2" width="13.9" height="13.9" rx="1.5" fill="#c00000" stroke="#c00000" stroke-width="1"/>
<rect x="190.1" y="507.2" width="13.9" height="13.9" rx="1.5" fill="#c00000" stroke="#c00000" stroke-width="1"/>
<rect x="194.6" y="507.2" width="13.9" height="13.9" rx="1.5" fill="#c00000" stroke="#c00000" stroke-width="1"/>
<rect x="199.1" y="507.2" width="13.9" height="13.9" rx="1.5" fill="#c00000" stroke="#c00000" stroke-width="1"/>
<rect x="203.6" y="507.2" width="13.9" height="13.9" rx="1.5" fill="#c00000" stroke="#c00000" stroke-width="1"/>
<rect x="208.1" y="507.2" width="13.9" height="13.9" rx="1.5" fill="#c00000" stroke="#c00000" stroke-width="1"/>
<rect x="212.6" y="507.2" width="13.9" height="13.9" rx="1.5" fill="#c00000" stroke="#c00000" stroke-width="1"/>
<rect x="217.1" y="507.2" width="13.9" height="13.9" rx="1.5" fill="#c00000" stroke="#c00000" stroke-width="1"/>
<rect x="221.6" y="507.2" width="13.9" height="13.9" rx="1.5" fill="#c00000" stroke="#c00000" stroke-width="1"/>
<rect x="226.1" y="507.2" width="13.9" height="13.9" rx="1.5" fill="#c00000" stroke="#c00000" stroke-width="1"/>
<rect x="230.6" y="507.2" width="13.9" height="13.9" rx="1.5" fill="#c00000" stroke="#c00000" stroke-width="1"/>
<rect x="235.1" y="507.2" width="13.9" height="13.9" rx="1.5" fill="#c00000" stroke="#c00000" stroke-width="1"/>
<rect x="239.6" y="507.2" width="13.9" height="13.9" rx="1.5" fill="#c00000" stroke="#c00000" stroke-width="1"/>
<rect x="244.1" y="507.2" width="13.9" height="13.9" rx="1.5" fill="#c00000" stroke="#c00000" stroke-width="1"/>
<rect x="248.6" y="507.2" width="13.9" height="13.9" rx="1.5" fill="#c00000" stroke="#c00000" stroke-width="1"/>
<rect x="253.1" y="507.2" width="13.9" height="13.9" rx="1.5" fill="#c00000" stroke="#c00000" stroke-width="1"/>
<rect x="257.6" y="507.2" width="13.9" height="13.9" rx="1.5" fill="#c00000" stroke="#c00000" stroke-width="1"/>
<rect x="262.1" y="507.2" width="13.9" height="13.9" rx="1.5" fill="#c00000" stroke="#c00000" stroke-width="1"/>
<rect x="266.6" y="507.2" width="13.9" height="13.9" rx="1.5" fill="#c00000" stroke="#c00000" stroke-width="1"/>
<rect x="271.1" y="507.2" width="13.9" height="13.9" rx="1.5" fill="#c00000" stroke="#c00000" stroke-width="1"/>
<rect x="275.6" y="507.2" width="13.9" height="13.9" rx="1.5" fill="#c00000" stroke="#c00000" stroke-width="1"/>
<rect x="280.1" y="507.2" width="13.9" height="13.9" rx="1.5" fill="#c00000" stroke="#c00000" stroke-width="1"/>
<rect x="284.6" y="507.2" width="13.9" height="13.9" rx="1.5" fill="#c00000" stroke="#c00000" stroke-width="1"/>
<rect x="289.1" y="507.2" width="13.9" height="13.9" rx="1.5" fill="#c00000" stroke="#c00000" stroke-width="1"/>
<rect x="293.6" y="507.2" width="13.9" height="13.9" rx="1.5" fill="#c00000" stroke="#c00000" stroke-width="1"/>
<rect x="298.1" y="507.2" width="13.9" height="13.9" rx="1.5" fill="#c00000" stroke="#c00000" stroke-width="1"/>
<rect x="302.6" y="507.2" width="13.9" height="13.9" rx="1.5" fill="#c00000" stroke="#c00000" stroke-width="1"/>
<rect x="307.1" y="507.2" width="13.9" height="13.9" rx="1.5" fill="#c00000" stroke="#c00000" stroke-width="1"/>
<rect x="311.6" y="507.2" width="13.9" height="13.9" rx="1.5" fill="#c00000" stroke="#c00000" stroke-width="1"/>
<rect x="316.1" y="507.2" width="13.9" height="13.9" rx="1.5" fill="#c00000" stroke="#c00000" stroke-width="1"/>
<rect x="320.6" y="507.2" width="13.9" height="13.9" rx="1.5" fill="#c00000" stroke="#c00000" stroke-width="1"/>
<rect x="325.1" y="507.2" width="13.9" height="13.9" rx="1.5" fill="#c00000" stroke="#c00000" stroke-width="1"/>
<rect x="329.6" y="507.2" width="13.9" height="13.9" rx="1.5" fill="#c00000" stroke="#c00000" stroke-width="1"/>
<rect x="332.9" y="507.2" width="13.9" height="13.9" rx="1.5" fill="#c00000" stroke="#c00000" stroke-width="1"/>
<rect x="337.4" y="506.8" width="13.9" height="13.9" rx="1.5" fill="#c00000" stroke="#c00000" stroke-width="1"/>
<rect x="341.9" y="498.7" width="13.9" height="13.9" rx="1.5" fill="#c00000" stroke="#c00000" stroke-width="1"/>
<rect x="346.6" y="491.1" width="13.9" height="13.9" rx="1.5" fill="#c00000" stroke="#c00000" stroke-width="1"/>
<rect x="351.4" y="470.2" width="13.9" height="13.9" rx="1.5" fill="#c00000" stroke="#c00000" stroke-width="1"/>
<rect x="355.7" y="462.8" width="13.9" height="13.9" rx="1.5" fill="#c00000" stroke="#c00000" stroke-width="1"/>
<rect x="363.2" y="417.8" width="13.9" height="13.9" rx="1.5" fill="#c00000" stroke="#c00000" stroke-width="1"/>
<rect x="367.8" y="402.7" width="13.9" height="13.9" rx="1.5" fill="#c00000" stroke="#c00000" stroke-width="1"/>
<rect x="372.7" y="360.8" width="13.9" height="13.9" rx="1.5" fill="#c00000" stroke="#c00000" stroke-width="1"/>
<rect x="376.4" y="328.7" width="13.9" height="13.9" rx="1.5" fill="#c00000" stroke="#c00000" stroke-width="1"/>
<rect x="380.9" y="300.2" width="13.9" height="13.9" rx="1.5" fill="#c00000" stroke="#c00000" stroke-width="1"/>
<rect x="385.8" y="257.6" width="13.9" height="13.9" rx="1.5" fill="#c00000" stroke="#c00000" stroke-width="1"/>
<rect x="394.9" y="218.2" width="13.9" height="13.9" rx="1.5" fill="#c00000" stroke="#c00000" stroke-width="1"/>
<rect x="406.7" y="218.9" width="13.9" height="13.9" rx="1.5" fill="#c00000" stroke="#c00000" stroke-width="1"/>
<rect x="410.9" y="243.2" width="13.9" height="13.9" rx="1.5" fill="#c00000" stroke="#c00000" stroke-width="1"/>
<rect x="415.2" y="255.6" width="13.9" height="13.9" rx="1.5" fill="#c00000" stroke="#c00000" stroke-width="1"/>
<rect x="419.8" y="319.9" width="13.9" height="13.9" rx="1.5" fill="#c00000" stroke="#c00000" stroke-width="1"/>
<rect x="424.2" y="320.1" width="13.9" height="13.9" rx="1.5" fill="#c00000" stroke="#c00000" stroke-width="1"/>
<rect x="426.9" y="341.4" width="13.9" height="13.9" rx="1.5" fill="#c00000" stroke="#c00000" stroke-width="1"/>
<rect x="430.6" y="399.8" width="13.9" height="13.9" rx="1.5" fill="#c00000" stroke="#c00000" stroke-width="1"/>
<rect x="435.8" y="441.4" width="13.9" height="13.9" rx="1.5" fill="#c00000" stroke="#c00000" stroke-width="1"/>
<rect x="440.2" y="478.4" width="13.9" height="13.9" rx="1.5" fill="#c00000" stroke="#c00000" stroke-width="1"/>
<rect x="444.4" y="500.9" width="13.9" height="13.9" rx="1.5" fill="#c00000" stroke="#c00000" stroke-width="1"/>
<rect x="449.1" y="505.6" width="13.9" height="13.9" rx="1.5" fill="#c00000" stroke="#c00000" stroke-width="1"/>
<rect x="453.6" y="507.2" width="13.9" height="13.9" rx="1.5" fill="#c00000" stroke="#c00000" stroke-width="1"/>
<rect x="458.1" y="507.2" width="13.9" height="13.9" rx="1.5" fill="#c00000" stroke="#c00000" stroke-width="1"/>
<rect x="462.6" y="507.2" width="13.9" height="13.9" rx="1.5" fill="#c00000" stroke="#c00000" stroke-width="1"/>
<rect x="467.1" y="507.2" width="13.9" height="13.9" rx="1.5" fill="#c00000" stroke="#c00000" stroke-width="1"/>
<rect x="471.6" y="507.2" width="13.9" height="13.9" rx="1.5" fill="#c00000" stroke="#c00000" stroke-width="1"/>
<rect x="476.1" y="507.2" width="13.9" height="13.9" rx="1.5" fill="#c00000" stroke="#c00000" stroke-width="1"/>
<rect x="480.6" y="507.2" width="13.9" height="13.9" rx="1.5" fill="#c00000" stroke="#c00000" stroke-width="1"/>
<rect x="485.1" y="507.2" width="13.9" height="13.9" rx="1.5" fill="#c00000" stroke="#c00000" stroke-width="1"/>
<rect x="489.6" y="507.2" width="13.9" height="13.9" rx="1.5" fill="#c00000" stroke="#c00000" stroke-width="1"/>
<rect x="494.1" y="507.2" width="13.9" height="13.9" rx="1.5" fill="#c00000" stroke="#c00000" stroke-width="1"/>
<rect x="496.6" y="507.2" width="13.9" height="13.9" rx="1.5" fill="#c00000" stroke="#c00000" stroke-width="1"/>
<line x1="852.8" y1="61.7" x2="888.8" y2="61.7" stroke="#f79646" stroke-width="4.2" stroke-linecap="round"/>
<path d="M871.0 55.0L877.9 68.4L864.1 68.4Z" fill="#f79646" stroke="#f79646" stroke-width="3" stroke-linejoin="round"/>
<text x="893" y="78.1" class="lg">NPA</text>
<line x1="852.8" y1="129.7" x2="888.8" y2="129.7" stroke="#00b0f0" stroke-width="4.2" stroke-linecap="round"/>
<circle cx="871.0" cy="129.7" r="7.4" fill="#00b0f0"/>
<text x="893" y="146.1" class="lg">IPA</text>
<line x1="852.8" y1="197.7" x2="888.8" y2="197.7" stroke="#00b050" stroke-width="4.2" stroke-linecap="round"/>
<path d="M871.0 191.8L876.9 197.7L871.0 203.6L865.1 197.7Z" fill="#00b050" stroke="#00b050" stroke-width="2.6" stroke-linejoin="round"/>
<text x="893" y="214.1" class="lg">EG</text>
<line x1="852.8" y1="265.7" x2="888.8" y2="265.7" stroke="#c00000" stroke-width="4.2" stroke-linecap="round"/>
<rect x="864.0" y="258.8" width="13.9" height="13.9" rx="1.5" fill="#c00000" stroke="#c00000" stroke-width="1"/>
<text x="893" y="281.3" class="lg lgb" transform="translate(893 0) scale(0.935 1) translate(-893 0)">BUT</text>
<text x="97.5" y="526.5" class="tk" text-anchor="end">0</text>
<text x="97.5" y="455.1" class="tk" text-anchor="end">1</text>
<text x="97.5" y="383.7" class="tk" text-anchor="end">2</text>
<text x="97.5" y="312.4" class="tk" text-anchor="end">3</text>
<text x="97.5" y="241.0" class="tk" text-anchor="end">4</text>
<text x="97.5" y="169.6" class="tk" text-anchor="end">5</text>
<text x="97.5" y="98.2" class="tk" text-anchor="end">6</text>
<text x="97.5" y="26.8" class="tk" text-anchor="end">7</text>
<text x="129.5" y="569.4" class="tk" text-anchor="middle">0.01</text>
<text x="282.9" y="569.4" class="tk" text-anchor="middle">0.1</text>
<text x="436.3" y="569.4" class="tk" text-anchor="middle">1</text>
<text x="589.7" y="569.4" class="tk" text-anchor="middle">10</text>
<text x="743.1" y="569.4" class="tk" text-anchor="middle">100</text>
<text x="896.5" y="569.4" class="tk" text-anchor="middle">1000</text>
<text x="513" y="621" class="tt" text-anchor="middle">Particle Size (µm)</text>
<text transform="translate(38,277) rotate(-90)" class="tt" text-anchor="middle">Volume (%)</text>
</svg>
</body></html>
